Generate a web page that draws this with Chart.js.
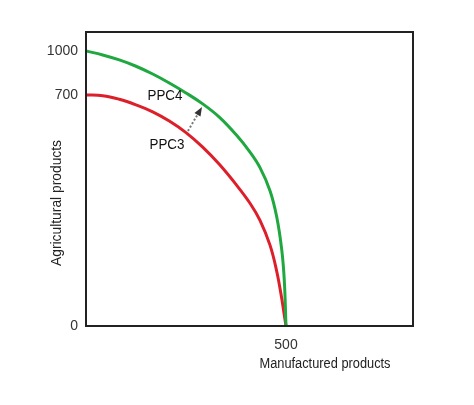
<!DOCTYPE html>
<html>
<head>
<meta charset="utf-8">
<script src="https://cdn.jsdelivr.net/npm/chart.js@4"></script>
<style>
  html, body { margin: 0; padding: 0; background: #fff; }
  #wrap { width: 474px; height: 405px; }
</style>
</head>
<body>
<div id="wrap"><canvas id="c" width="474" height="405"></canvas></div>
<script>
// ---- data ----
const xTicks = [500];
const yTicks = [0, 700, 1000];
const ppc4X = [0, 41.75, 83.25, 125, 166.75, 208.25, 250, 291.75, 333.25, 375, 410, 435, 460, 476.75, 489.25, 495.75, 500];
const ppc4Y = [1000, 973, 939, 896, 843, 782, 714, 673, 633, 580, 527, 480, 410, 331, 232, 138, 0];
const ppc3X = [0, 41.75, 83.25, 125, 166.75, 208.25, 250, 291.75, 333.25, 375, 410, 435, 460, 476.75, 489.25, 495.75, 500];
const ppc3Y = [700, 698, 687, 670, 649, 621, 586, 542, 490, 429, 372, 320, 245, 166, 84, 33, 0];
const curveNames = ['PPC4', 'PPC3'];
const nameX = [197.5, 202.5];
const nameY = [697, 548];
const arrowFrom = [255, 591];
const arrowTo = [290, 664];
const xTitle = 'Manufactured products';
const yTitle = 'Agricultural products';

// ---- piecewise y scale (the reference's axis is not uniform between labels) ----
const breakVals = [0, 700, 1000, 1120];
const breakDec = [0, 231 / 294, 275 / 294, 1];
function valToDec(v) {
  for (let i = 1; i < breakVals.length; i++) {
    if (v <= breakVals[i] || i === breakVals.length - 1) {
      const t = (v - breakVals[i - 1]) / (breakVals[i] - breakVals[i - 1]);
      return breakDec[i - 1] + t * (breakDec[i] - breakDec[i - 1]);
    }
  }
}
function decToVal(d) {
  for (let i = 1; i < breakDec.length; i++) {
    if (d <= breakDec[i] || i === breakDec.length - 1) {
      const t = (d - breakDec[i - 1]) / (breakDec[i] - breakDec[i - 1]);
      return breakVals[i - 1] + t * (breakVals[i] - breakVals[i - 1]);
    }
  }
}
class PiecewiseScale extends Chart.LinearScale {
  getPixelForValue(value) { return this.getPixelForDecimal(valToDec(value)); }
  getValueForPixel(pixel) { return decToVal(this.getDecimalForPixel(pixel)); }
}
PiecewiseScale.id = 'piecewise';
PiecewiseScale.defaults = Chart.LinearScale.defaults;
Chart.register(PiecewiseScale);

const toPts = (xs, ys) => xs.map((x, i) => ({ x: x, y: ys[i] }));

const overlay = {
  id: 'overlay',
  afterDraw(chart) {
    const ctx = chart.ctx;
    const a = chart.chartArea;
    const xs = chart.scales.x, ys = chart.scales.y;
    ctx.save();
    // frame
    ctx.strokeStyle = '#222';
    ctx.lineWidth = 2;
    ctx.strokeRect(a.left, a.top, a.right - a.left, a.bottom - a.top);
    // curve names
    ctx.fillStyle = '#111';
    ctx.font = '14px "Liberation Sans", Arial, sans-serif';
    ctx.textAlign = 'center';
    ctx.textBaseline = 'middle';
    curveNames.forEach((n, i) => {
      ctx.fillText(n, xs.getPixelForValue(nameX[i]), ys.getPixelForValue(nameY[i]), 35);
    });
    // arrow
    const x0 = xs.getPixelForValue(arrowFrom[0]), y0 = ys.getPixelForValue(arrowFrom[1]);
    const x1 = xs.getPixelForValue(arrowTo[0]), y1 = ys.getPixelForValue(arrowTo[1]);
    const ang = Math.atan2(y1 - y0, x1 - x0);
    const headLen = 9;
    const bx = x1 - Math.cos(ang) * headLen, by = y1 - Math.sin(ang) * headLen;
    ctx.strokeStyle = '#777';
    ctx.lineWidth = 2;
    ctx.setLineDash([2, 2]);
    ctx.beginPath();
    ctx.moveTo(x0, y0);
    ctx.lineTo(bx, by);
    ctx.stroke();
    ctx.setLineDash([]);
    ctx.fillStyle = '#333';
    ctx.beginPath();
    ctx.moveTo(x1, y1);
    ctx.lineTo(bx + Math.cos(ang + Math.PI / 2) * 3.5, by + Math.sin(ang + Math.PI / 2) * 3.5);
    ctx.lineTo(bx + Math.cos(ang - Math.PI / 2) * 3.5, by + Math.sin(ang - Math.PI / 2) * 3.5);
    ctx.closePath();
    ctx.fill();
    // axis titles
    ctx.fillStyle = '#222';
    ctx.font = '14px "Liberation Sans", Arial, sans-serif';
    ctx.fillText(xTitle, 325, 364, 131);
    ctx.translate(57, 203);
    ctx.rotate(-Math.PI / 2);
    ctx.fillText(yTitle, 0, 0, 126);
    ctx.restore();
  }
};

new Chart(document.getElementById('c'), {
  type: 'scatter',
  data: {
    datasets: [
      { label: 'PPC4', data: toPts(ppc4X, ppc4Y), showLine: true, borderColor: '#1fa83f', borderWidth: 3,
        pointRadius: 0, tension: 0.4, fill: false },
      { label: 'PPC3', data: toPts(ppc3X, ppc3Y), showLine: true, borderColor: '#dd1f2a', borderWidth: 3,
        pointRadius: 0, tension: 0.4, fill: false }
    ]
  },
  options: {
    responsive: false,
    animation: false,
    layout: { padding: { left: 0, top: 32, right: 61, bottom: 0 } },
    plugins: { legend: { display: false }, tooltip: { enabled: false } },
    scales: {
      x: {
        type: 'linear', min: 0, max: 817.5,
        grid: { display: false, drawTicks: false },
        border: { display: false },
        afterBuildTicks: s => { s.ticks = xTicks.map(v => ({ value: v })); },
        afterFit: s => { s.height = 79; },
        ticks: { color: '#333', padding: 11, font: { size: 14, family: '"Liberation Sans", Arial, sans-serif' },
                 callback: v => String(v), maxRotation: 0 }
      },
      y: {
        type: 'piecewise', min: 0, max: 1120,
        grid: { display: false, drawTicks: false },
        border: { display: false },
        afterBuildTicks: s => { s.ticks = yTicks.map(v => ({ value: v })); },
        afterFit: s => { s.width = 86; },
        ticks: { color: '#333', padding: 8, font: { size: 14, family: '"Liberation Sans", Arial, sans-serif' },
                 callback: v => String(v) }
      }
    }
  },
  plugins: [overlay]
});
</script>
</body>
</html>
